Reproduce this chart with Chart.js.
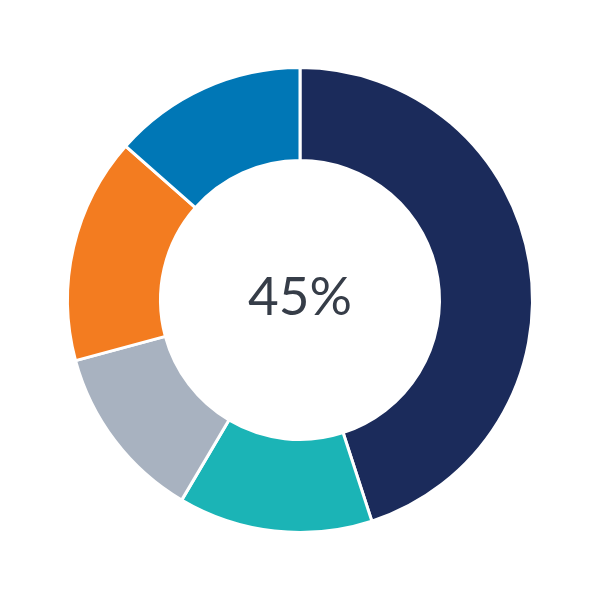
<!doctype html>
<html lang="en">
  <head>
    <meta charset="utf-8">
    <title>Doughnut</title>
    <style>
      * { margin: 0; padding: 0; }
      body { background: #fff; }
      .chartBox { width: 600px; height: 600px; }
    </style>
  </head>
  <body>
    <div class="chartBox">
      <canvas id="myChart" width="600" height="600"></canvas>
    </div>
    <script src="https://cdn.jsdelivr.net/npm/chart.js/dist/chart.umd.min.js"></script>
    <script>
    // setup
    const labels = ['A', 'B', 'C', 'D', 'E'];
    const values = [45, 13.5, 12.3, 15.7, 13.5];
    const colors = ['#1b2b5b', '#1bb4b6', '#a8b2c0', '#f37c20', '#0077b6'];
    const centerLabel = '45%';

    // center text plugin
    const centerText = {
      id: 'centerText',
      afterDraw(chart) {
        const { ctx, chartArea: { left, right, top, bottom } } = chart;
        ctx.save();
        ctx.font = '400 53px Lato, "Open Sans", sans-serif';
        ctx.fillStyle = '#363d48';
        ctx.textAlign = 'center';
        ctx.textBaseline = 'alphabetic';
        ctx.fillText(centerLabel, (left + right) / 2, (top + bottom) / 2 + 15);
        ctx.restore();
      }
    };

    const config = {
      type: 'doughnut',
      data: {
        labels,
        datasets: [{
          data: values,
          backgroundColor: colors,
          borderColor: '#ffffff',
          borderWidth: 3
        }]
      },
      options: {
        responsive: false,
        animation: false,
        cutout: '60%',
        layout: { padding: 66 },
        plugins: {
          legend: { display: false },
          tooltip: { enabled: false }
        }
      },
      plugins: [centerText]
    };

    const myChart = new Chart(document.getElementById('myChart'), config);
    </script>
  </body>
</html>
